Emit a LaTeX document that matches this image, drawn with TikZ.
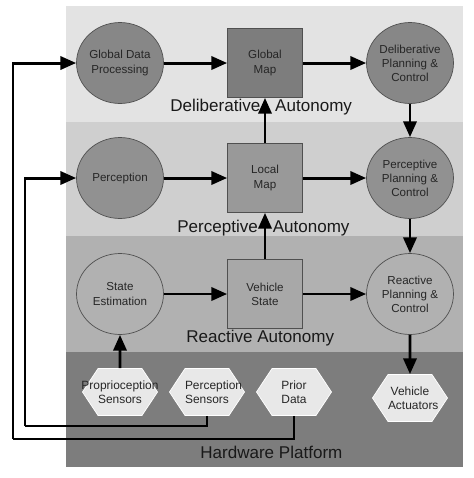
\documentclass[tikz,border=0pt]{standalone}
\usepackage{fontspec}
\setmainfont{Liberation Sans}
\usetikzlibrary{shapes.geometric,shapes.symbols,arrows.meta}
\definecolor{bandA}{HTML}{E3E3E3}
\definecolor{bandB}{HTML}{CFCFCF}
\definecolor{bandC}{HTML}{B1B1B1}
\definecolor{bandD}{HTML}{7D7D7D}
\definecolor{edge}{HTML}{505050}
\tikzset{
  proc/.style={ellipse, draw=edge, thin, minimum width=1.74cm, minimum height=1.62cm, inner sep=0pt, align=center, text=black!85, font=\fontsize{6.6}{8}\selectfont},
  store/.style={rectangle, draw=edge, thin, minimum width=1.5cm, minimum height=1.38cm, inner sep=0pt, align=center, text=black!85, font=\fontsize{6.6}{8}\selectfont},
  hexbox/.style={signal, signal to=west and east, signal pointer angle=113, draw=white, thin, fill=black!9, minimum width=1.48cm, minimum height=0.94cm, text width=0.88cm, inner xsep=0pt, inner ysep=1pt, align=center, text=black!85, font=\fontsize{6.8}{8.2}\selectfont},
  bandlabel/.style={inner sep=0pt, anchor=west, text=black!90, font=\fontsize{9.7}{12}\selectfont},
  link/.style={line width=1.7pt, -{Triangle[length=9pt,width=7.5pt]}},
  feed/.style={line width=1.7pt}
}
\begin{document}
\begin{tikzpicture}[x=0.02cm, y=-0.02cm]
\useasboundingbox (0,0) rectangle (474,478);
\fill[bandA] (66,6) rectangle (463,122);
\fill[bandB] (66,122) rectangle (463,236);
\fill[bandC] (66,236) rectangle (463,352);
\fill[bandD] (66,352) rectangle (463,467);
\node[bandlabel] (delib) at (170,107) {Deliberative\hspace{8.5pt}Autonomy};
\node[bandlabel] (percaut) at (177,228) {Perceptive\hspace{8.5pt}Autonomy};
\node[bandlabel] (reaut) at (186,338) {Reactive Autonomy};
\node[bandlabel] (hw) at (200,452) {Hardware Platform};
\node[proc, fill=black!47] (gdp) at (120,63) {Global Data\\Processing};
\node[store, fill=black!51] (gmap) at (265,63) {Global\\Map};
\node[proc, fill=black!47] (dpc) at (410,63) {Deliberative\\Planning \&\\Control};
\node[proc, fill=black!43] (perc) at (120,178) {Perception};
\node[store, fill=black!40] (lmap) at (265,178) {Local\\Map};
\node[proc, fill=black!43] (ppc) at (410,178) {Perceptive\\Planning \&\\Control};
\node[proc, fill=bandC] (se) at (120,294) {State\\Estimation};
\node[store, fill=black!34] (vstate) at (265,294) {Vehicle\\State};
\node[proc, fill=bandC] (rpc) at (410,294) {Reactive\\Planning \&\\Control};
\node[hexbox] (props) at (120,392) {\makebox[0pt]{Proprioception}\\Sensors};
\node[hexbox] (psens) at (207,392) {Perception\\Sensors};
\node[hexbox] (prior) at (294,392) {Prior\\Data};
\node[hexbox] (act) at (410,398) {Vehicle\\Actuators};
\coordinate (fbA) at (13,439);
\coordinate (fbB) at (25,426);
\draw[link] (gdp) -- (gmap);
\draw[link] (gmap) -- (dpc);
\draw[link] (perc) -- (lmap);
\draw[link] (lmap) -- (ppc);
\draw[link] (se) -- (vstate);
\draw[link] (vstate) -- (rpc);
\draw[link] (vstate) -- (lmap);
\draw[link] (lmap) -- (gmap);
\draw[link] (dpc) -- (ppc);
\draw[link] (ppc) -- (rpc);
\draw[link] (rpc) -- (act);
\draw[link] (props) -- (se);
\draw[feed] (prior.south) |- (fbA);
\draw[link] (fbA) |- (gdp.west);
\draw[feed] (psens.south) |- (fbB);
\draw[link] (fbB) |- (perc.west);
\end{tikzpicture}
\end{document}
